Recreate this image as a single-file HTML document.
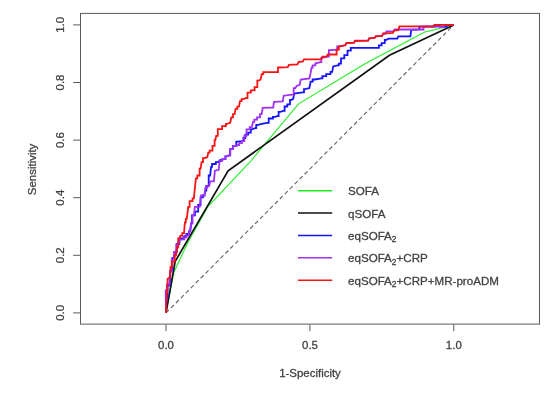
<!DOCTYPE html>
<html><head><meta charset="utf-8"><title>ROC</title>
<style>
html,body{margin:0;padding:0;background:#fff;}
svg{display:block}
text{font-family:"Liberation Sans",Arial,sans-serif;fill:#404040;stroke:#404040;stroke-width:0.28px;}
</style></head><body>
<svg width="550" height="394" viewBox="0 0 550 394">
<rect width="550" height="394" fill="#fff"/>
<g fill="none" stroke-linejoin="miter" stroke-linecap="butt">
<line x1="166" y1="312.9" x2="453.8" y2="24.9" stroke="#666" stroke-width="1.15" stroke-dasharray="4.2,2.8" stroke-linecap="butt"/>
<polyline points="166.0,312.9 173.8,272.5 188.2,241.7 208.3,206.0 250.0,162.0 298.6,103.9 364.6,64.0 424.2,32.3 453.8,24.9" stroke="#22ee22" stroke-width="1.1"/>
<polyline points="166.0,312.9 175.2,261.4 228.1,170.8 389.5,55.3 453.8,24.9" stroke="#111" stroke-width="1.7"/>
<polyline points="166.0,312.9 166.8,297.4 167.6,297.4 167.6,285.4 168.3,285.4 169.7,285.4 170.6,270.4 172.4,270.4 172.4,258.0 174.2,258.0 175.1,251.8 176.9,251.8 176.9,243.8 178.6,243.8 179.5,243.8 179.5,238.3 180.3,238.3 183.1,238.3 184.2,238.3 184.2,236.2 185.3,236.2 186.4,236.2 186.4,234.0 187.5,234.0 188.9,234.0 188.9,231.3 190.2,231.3 191.1,223.3 192.0,223.3 192.0,215.3 192.9,215.3 194.9,215.3 194.9,211.6 196.8,211.6 198.2,211.6 198.2,205.0 199.7,205.0 200.6,205.0 200.6,197.3 201.6,197.3 203.0,197.3 203.0,195.5 204.4,195.5 205.4,190.7 206.3,190.7 206.3,186.0 207.3,186.0 208.7,186.0 208.7,175.5 210.1,175.5 211.1,166.8 212.0,166.8 212.0,164.0 213.0,164.0 215.8,164.0 215.8,162.1 218.7,162.1 219.6,160.2 224.4,159.2 225.4,159.2 225.4,156.4 226.3,156.4 229.2,155.4 230.2,155.4 230.2,148.8 231.1,148.8 233.0,148.8 233.0,145.9 234.9,145.9 236.3,145.9 236.3,141.7 237.7,141.7 242.4,141.2 243.4,141.2 243.4,138.0 244.4,138.0 245.4,138.0 245.4,134.7 246.4,134.7 248.1,134.7 248.1,132.6 249.7,132.6 250.8,132.6 250.8,129.3 251.8,129.3 255.2,128.2 256.2,128.2 256.2,125.0 257.3,125.0 261.7,123.9 267.1,122.8 268.7,122.8 268.7,118.5 270.3,118.5 272.9,118.5 272.9,116.8 275.5,116.8 277.0,116.2 278.6,116.2 278.6,111.9 280.2,111.9 283.5,110.8 284.6,110.8 284.6,106.5 285.6,106.5 287.3,106.5 287.3,104.3 288.9,104.3 290.0,104.3 290.0,100.0 291.0,100.0 293.2,98.9 294.3,93.5 302.9,92.4 304.0,92.4 304.0,89.2 305.1,89.2 309.4,88.1 310.6,81.6 312.7,81.6 312.7,79.5 314.9,79.5 321.4,78.4 322.4,78.4 322.4,76.2 323.5,76.2 326.2,76.2 326.2,74.1 328.9,74.1 330.5,74.1 330.5,71.8 332.2,71.8 333.2,66.4 337.6,65.3 338.8,65.3 338.8,63.7 339.9,63.7 341.0,63.7 341.0,58.3 342.1,58.3 344.3,58.3 344.3,55.1 346.4,55.1 347.5,55.1 347.5,50.7 348.6,50.7 350.8,50.7 350.8,47.9 352.9,47.9 377.8,47.9 378.9,47.9 378.9,45.3 380.0,45.3 381.6,45.3 381.6,43.1 383.2,43.1 384.8,43.1 384.8,39.9 386.5,39.9 388.6,38.7 397.3,38.7 398.3,36.4 410.4,36.4 411.2,29.9 419.4,29.5 419.4,26.6 435.2,26.6 435.8,24.9 439.8,24.9 439.8,26.6 445.8,26.6 446.8,26.6 446.8,24.9 447.8,24.9 453.8,24.9" stroke="#1414ff" stroke-width="1.8"/>
<polyline points="166.0,312.9 165.7,290.4 166.8,290.4 166.8,284.4 167.8,284.4 169.3,284.4 170.1,271.4 171.7,271.4 171.7,259.3 173.3,259.3 174.0,259.3 174.0,251.8 174.6,251.8 176.2,251.8 176.2,244.3 177.8,244.3 178.8,244.3 178.8,239.8 179.8,239.8 183.3,239.3 184.4,239.3 184.4,237.3 185.4,237.3 186.5,237.3 186.5,235.3 187.5,235.3 188.9,235.3 188.9,231.3 190.2,231.3 191.1,223.3 192.5,223.3 192.5,215.3 193.9,215.3 194.9,206.9 199.7,206.9 201.0,195.5 204.4,195.5 205.4,187.9 207.3,187.9 207.3,186.0 209.2,186.0 210.1,181.3 213.9,181.3 214.9,170.7 218.7,169.8 219.6,161.2 222.0,161.2 222.0,159.2 224.4,159.2 225.4,159.2 225.4,156.4 226.3,156.4 229.2,155.4 230.2,155.4 230.2,148.8 231.1,148.8 233.0,148.8 233.0,145.9 234.9,145.9 237.8,145.2 239.2,145.2 239.2,143.2 240.5,143.2 241.9,143.2 241.9,141.2 243.2,141.2 244.3,141.2 244.3,135.8 245.4,135.8 246.5,135.8 246.5,129.3 247.5,129.3 249.7,129.3 249.7,127.2 251.8,127.2 253.0,121.8 254.3,121.8 254.3,119.6 255.7,119.6 257.0,119.6 257.0,117.4 258.4,117.4 260.0,117.4 260.0,114.2 261.7,114.2 262.7,107.8 273.2,107.5 274.0,101.8 282.8,101.5 283.7,95.7 292.1,94.6 293.7,94.6 293.7,88.1 295.3,88.1 296.5,86.0 299.7,84.9 300.7,79.5 309.4,78.4 310.6,73.0 311.6,67.5 312.7,67.5 312.7,65.3 313.8,65.3 315.4,65.3 315.4,63.1 317.0,63.1 320.3,62.1 321.3,62.1 321.3,57.8 322.4,57.8 327.8,56.7 328.9,56.7 328.9,50.2 330.0,50.2 335.6,49.8 337.2,49.8 337.2,46.4 338.8,46.4 345.3,45.3 346.4,43.1 354.0,42.7 355.0,40.6 368.1,40.6 369.2,38.4 374.6,38.0 375.7,36.3 382.1,35.8 383.2,33.5 385.4,33.5 386.5,31.3 393.7,31.1 394.7,29.5 423.5,29.5 423.5,26.6 443.4,26.6 444.1,26.6 444.1,24.9 444.8,24.9 453.8,24.9" stroke="#a030f5" stroke-width="1.8"/>
<polyline points="166.0,312.9 166.3,299.4 167.5,288.4 167.6,278.9 169.7,277.7 170.6,267.0 172.0,267.0 172.0,261.6 173.3,261.6 174.7,261.6 174.7,255.3 176.0,255.3 176.9,247.3 178.2,247.3 178.2,238.3 179.5,238.3 180.3,235.8 182.2,235.8 182.2,233.1 184.0,233.1 184.9,222.3 185.8,222.3 185.8,218.9 186.7,218.9 187.2,215.3 188.2,206.9 189.6,206.9 189.6,201.2 191.0,201.2 192.5,201.2 192.5,198.3 193.9,198.3 194.9,187.9 195.9,178.3 197.3,178.3 197.3,175.5 198.7,175.5 199.6,175.5 199.6,168.7 200.6,168.7 201.6,162.1 203.0,162.1 203.0,158.2 204.4,158.2 207.3,157.2 208.2,152.6 209.6,152.6 209.6,150.7 211.1,150.7 212.5,150.7 212.5,145.9 213.9,145.9 214.6,145.9 214.6,140.2 215.3,140.2 216.2,135.8 217.8,135.8 217.8,129.2 219.4,129.2 222.1,129.2 222.1,126.1 224.8,126.1 225.9,126.1 225.9,123.9 227.0,123.9 230.2,122.8 231.3,117.4 233.0,117.4 233.0,114.2 234.6,114.2 235.6,108.8 237.3,108.8 237.3,106.6 238.9,106.6 240.0,101.2 241.6,101.2 241.6,99.1 243.2,99.1 246.4,98.0 247.5,98.0 247.5,92.6 248.6,92.6 250.8,92.6 250.8,90.4 253.0,90.4 254.6,90.4 254.6,87.2 256.3,87.2 257.3,87.2 257.3,80.7 258.4,80.7 260.6,79.6 261.7,74.2 263.3,74.2 263.3,72.1 264.9,72.1 277.0,72.1 278.0,72.1 278.0,67.5 279.1,67.5 287.8,67.1 288.9,64.9 297.5,64.3 298.5,62.1 302.9,61.4 304.0,59.3 321.4,59.3 322.4,56.7 326.8,56.3 327.8,54.5 335.4,54.5 336.6,54.5 336.6,49.7 337.8,49.7 338.9,49.7 338.9,46.4 339.9,46.4 345.3,45.3 346.4,43.1 354.0,42.7 355.0,41.0 368.1,40.6 369.2,38.4 374.6,38.0 375.7,36.3 382.1,35.8 383.2,33.5 392.9,32.8 394.0,30.7 398.3,30.2 399.4,26.4 433.5,26.4 434.3,24.9 453.8,24.9" stroke="#f51414" stroke-width="1.8"/>
</g>
<g stroke="#5a5a5a" stroke-width="1" fill="none">
<rect x="80.5" y="13.4" width="459" height="310.7"/>
<path d="M73.2 24.9H80.5M73.2 82.5H80.5M73.2 140.1H80.5M73.2 197.7H80.5M73.2 255.3H80.5M73.2 312.9H80.5"/>
<path d="M166 324.200V331.300M309.900 324.200V331.300M453.800 324.200V331.300"/>
</g>
<g font-size="11.45px" text-anchor="middle">
<text x="166" y="348.8">0.0</text>
<text x="310" y="348.8">0.5</text>
<text x="453.8" y="348.8">1.0</text>
<text x="310" y="376.5">1-Specificity</text>
<text transform="translate(64.4,312.9) rotate(-90)">0.0</text>
<text transform="translate(64.4,255.3) rotate(-90)">0.2</text>
<text transform="translate(64.4,197.7) rotate(-90)">0.4</text>
<text transform="translate(64.4,140.1) rotate(-90)">0.6</text>
<text transform="translate(64.4,82.5) rotate(-90)">0.8</text>
<text transform="translate(64.4,24.9) rotate(-90)">1.0</text>
<text transform="translate(36.3,169.4) rotate(-90)">Sensitivity</text>
</g>
<g stroke-width="1.5" fill="none">
<line x1="298" x2="332.2" y1="190.7" y2="190.7" stroke="#22ee22"/>
<line x1="298" x2="332.2" y1="213" y2="213" stroke="#111"/>
<line x1="298" x2="332.2" y1="235.4" y2="235.4" stroke="#1414ff"/>
<line x1="298" x2="332.2" y1="257.8" y2="257.8" stroke="#a030f5"/>
<line x1="298" x2="332.2" y1="280.2" y2="280.2" stroke="#f51414"/>
</g>
<g font-size="11.6px">
<text x="348" y="195.2">SOFA</text>
<text x="348" y="217.6">qSOFA</text>
<text x="348" y="240">eqSOFA<tspan font-size="8.4px" dy="2.2">2</tspan></text>
<text x="348" y="262.4">eqSOFA<tspan font-size="8.4px" dy="2.2">2</tspan><tspan dy="-2.2">+CRP</tspan></text>
<text x="348" y="284.8">eqSOFA<tspan font-size="8.4px" dy="2.2">2</tspan><tspan dy="-2.2">+CRP+MR-proADM</tspan></text>
</g>
</svg>
</body></html>
